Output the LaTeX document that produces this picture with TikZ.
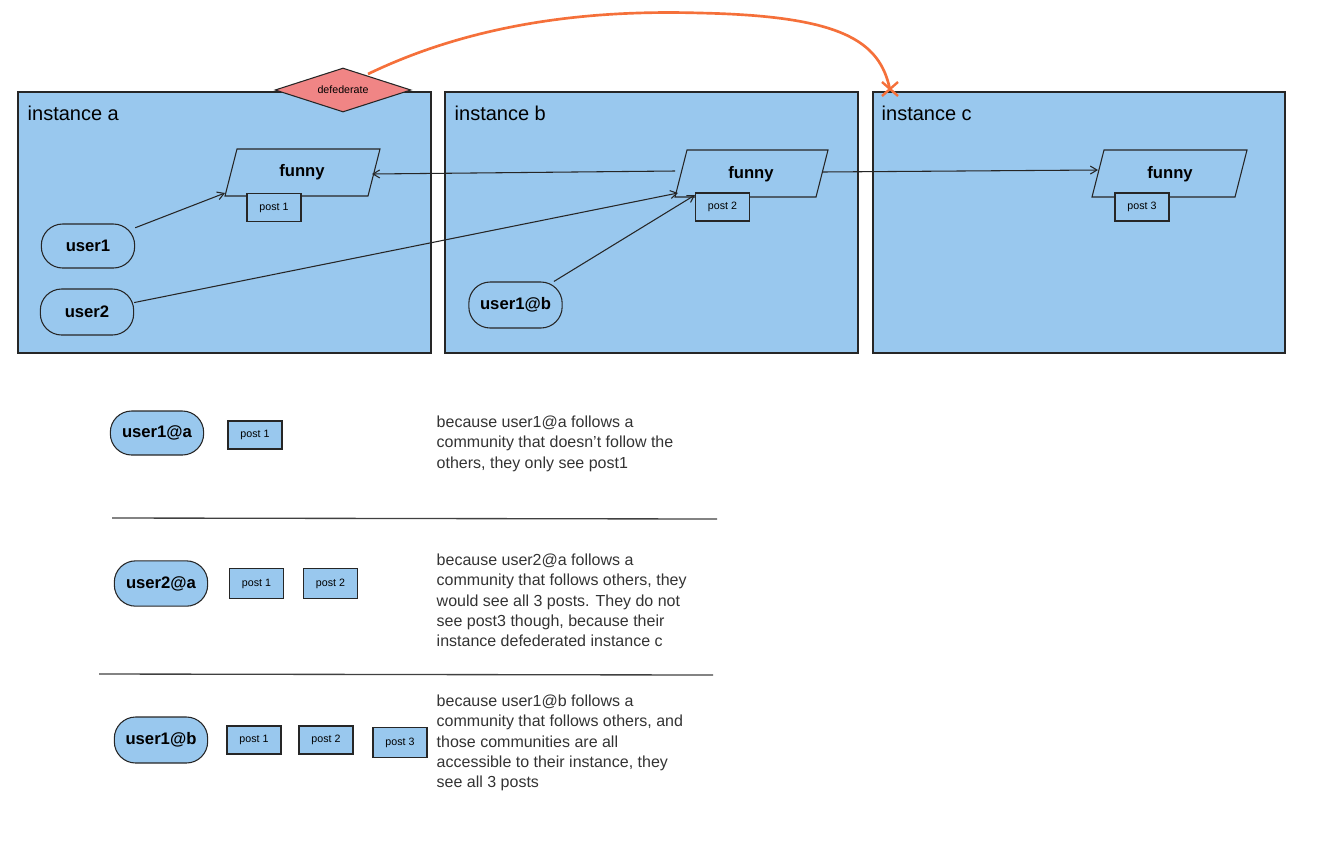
\documentclass[tikz,border=0pt]{standalone}
\usepackage{fontspec}
\setmainfont{Liberation Sans}
\usetikzlibrary{shapes.geometric,arrows.meta}
\definecolor{blu}{HTML}{99C8EE}
\definecolor{pinkr}{HTML}{F08585}
\definecolor{orng}{HTML}{F5703A}
\tikzset{
 inst/.style={draw=black!85,fill=blu,line width=0.8pt},
 ilabel/.style={anchor=west,font=\fontsize{15}{18}\selectfont},
 user/.style={draw=black!85,fill=blu,rounded corners=16pt,line width=0.8pt,font=\fontsize{12.5}{15}\selectfont\bfseries},
 post/.style={draw=black!85,fill=blu,line width=0.8pt,font=\fontsize{8}{10}\selectfont},
 funny/.style={draw=black!85,fill=blu,line width=0.8pt},
 arr/.style={draw=black!85,line width=0.8pt,-{Straight Barb[length=5pt,width=6pt]}},
 desc/.style={anchor=north west,align=left,font=\fontsize{12}{15.3}\selectfont,text=black!80},
 sep/.style={draw=black!75,line width=1pt}
}
\begin{document}
\begin{tikzpicture}[x=0.75pt,y=-0.75pt]
\useasboundingbox (0,0) rectangle (1337,840);
% instances
\draw[inst] (18,92) rectangle (431,353);
\draw[inst] (445,92) rectangle (858,353);
\draw[inst] (873,92) rectangle (1285,353);
\node[ilabel] (la) at (23,113) {instance a};
\node[ilabel] (lb) at (450,113) {instance b};
\node[ilabel] (lc) at (877,113) {instance c};
% funny shapes
\draw[funny] (237,149) -- (380,149) -- (368,196) -- (225,196) -- cycle;
\node[font=\fontsize{12.5}{15}\selectfont\bfseries] (fa) at (302,172) {funny};
\draw[funny] (687,150) -- (828,150) -- (816,197) -- (675,197) -- cycle;
\node[font=\fontsize{12.5}{15}\selectfont\bfseries] (fb) at (751,174) {funny};
\draw[funny] (1104,150) -- (1247,150) -- (1235,197) -- (1092,197) -- cycle;
\node[font=\fontsize{12.5}{15}\selectfont\bfseries] (fc) at (1170,174) {funny};
\coordinate (faL) at (225,193); \coordinate (faR) at (372,174);
\coordinate (fbL) at (675,171); \coordinate (fbR) at (822,172);
\coordinate (fbB) at (678,193); \coordinate (fbB2) at (695,195);
\coordinate (fcL) at (1098,170);
\node[post,minimum width=40.5pt,minimum height=21.5pt] (p1) at (274,207.5) {post 1};
\node[post,minimum width=40pt,minimum height=21pt] (p2) at (722.5,207) {post 2};
\node[post,minimum width=40.5pt,minimum height=21pt] (p3) at (1142,207) {post 3};
% users
\node[user,minimum width=70pt,minimum height=33pt] (u1) at (88,246) {user1};
\node[user,minimum width=70pt,minimum height=34.5pt] (u2) at (87,312) {user2};
\node[user,minimum width=70pt,minimum height=34.5pt] (ub) at (515.5,305) {user1@b};
% defederate
\node[diamond,draw=black!85,fill=pinkr,line width=0.8pt,aspect=3.1,minimum width=102pt,minimum height=33pt,inner sep=0pt,font=\fontsize{8}{10}\selectfont] (def) at (343,90) {defederate};
% orange curve
\coordinate (cend) at (890,90);
\draw[orng,line width=2pt] (368,74) .. controls (480,20) and (600,10) .. (700,13) .. controls (840,16) and (880,40) .. (cend);
\draw[orng,line width=1.8pt] (882,82) -- (898,96) (898,82) -- (882,96);
% arrows
\draw[arr] (u1) -- (faL);
\draw[arr] (u2) -- (fbB);
\draw[arr] (ub) -- (fbB2);
\draw[arr] (fbL) -- (faR);
\draw[arr] (fbR) -- (fcL);
% bottom rows
\node[user,minimum width=70pt,minimum height=33pt] (r1u) at (157,433) {user1@a};
\node[post,minimum width=40.5pt,minimum height=21pt] (r1p1) at (255,435) {post 1};
\node[desc] (r1t) at (432,411) {because user1@a follows a\\community that doesn't follow the\\others, they only see post1};
\draw[sep] (112,518) -- (717,519);
\node[user,minimum width=70pt,minimum height=34pt] (r2u) at (161,583.5) {user2@a};
\node[post,minimum width=41pt,minimum height=22pt] (r2p1) at (256.5,583.5) {post 1};
\node[post,minimum width=41pt,minimum height=22pt] (r2p2) at (330.5,583.5) {post 2};
\node[desc] (r2t) at (432,549) {because user2@a follows a\\community that follows others, they\\would see all 3 posts. They do not\\see post3 though, because their\\instance defederated instance c};
\draw[sep] (99,674) -- (713,675);
\node[user,minimum width=70pt,minimum height=34.5pt] (r3u) at (161,740) {user1@b};
\node[post,minimum width=40.5pt,minimum height=21pt] (r3p1) at (254,740) {post 1};
\node[post,minimum width=40.5pt,minimum height=21pt] (r3p2) at (326,740) {post 2};
\node[post,minimum width=40.5pt,minimum height=22pt] (r3p3) at (400,742.5) {post 3};
\node[desc] (r3t) at (432,690) {because user1@b follows a\\community that follows others, and\\those communities are all\\accessible to their instance, they\\see all 3 posts};
\end{tikzpicture}
\end{document}
